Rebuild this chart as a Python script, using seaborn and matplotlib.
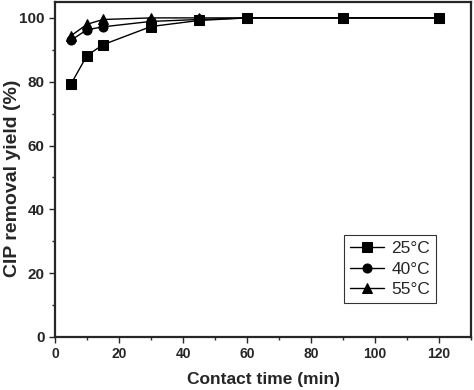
import numpy as np
import pandas as pd
import seaborn as sns
import matplotlib.pyplot as plt
from matplotlib.ticker import MultipleLocator

# Contact time (min) and CIP removal yield (%) at each temperature
time_min = [5, 10, 15, 30, 45, 60, 90, 120]
yield_25 = [79.3, 88.2, 91.6, 97.3, 99.2, 100.0, 100.0, 100.0]
yield_40 = [93.0, 96.3, 97.2, 98.9, 99.5, 100.0, 100.0, 100.0]
yield_55 = [94.4, 98.0, 99.5, 100.0, 100.0, 100.0, 100.0, 100.0]
labels = ['25°C', '40°C', '55°C']
markers = ['s', 'o', '^']

df = pd.concat([
    pd.DataFrame({'time': time_min, 'yield': y, 'T': lab})
    for y, lab in zip([yield_25, yield_40, yield_55], labels)
])

sns.set_style('ticks')
plt.rcParams['font.family'] = ['Liberation Sans', 'DejaVu Sans']

fig = plt.figure(figsize=(4.74, 3.90), dpi=100)
ax = fig.add_axes([0.116, 0.136, 0.878, 0.859])

for lab, m in zip(labels, markers):
    sns.lineplot(data=df[df['T'] == lab], x='time', y='yield', ax=ax,
                 color='black', marker=m, markersize=6.5, linewidth=1,
                 markeredgecolor='black', label=lab)

ax.set_xlim(0, 130)
ax.set_ylim(0, 105)
ax.xaxis.set_major_locator(MultipleLocator(20))
ax.xaxis.set_minor_locator(MultipleLocator(10))
ax.yaxis.set_major_locator(MultipleLocator(20))
ax.yaxis.set_minor_locator(MultipleLocator(10))
ax.tick_params(which='major', direction='out', length=4, width=1)
ax.tick_params(which='minor', direction='out', length=2.5, width=1)
ax.tick_params(axis='x', labelsize=10)
ax.tick_params(axis='y', labelsize=11)
for t in ax.get_xticklabels() + ax.get_yticklabels():
    t.set_fontweight('bold')
for s in ax.spines.values():
    s.set_linewidth(1.6)
    s.set_visible(True)

ax.set_xlabel('Contact time (min)', fontsize=12.5, fontweight='bold')
ax.xaxis.set_label_coords(0.502, -0.105)
ax.set_ylabel('CIP removal yield (%)', fontsize=14, fontweight='bold')
ax.yaxis.set_label_coords(-0.082, 0.475)

leg = ax.legend(loc='lower right', bbox_to_anchor=(0.916, 0.101), fontsize=12.5,
                frameon=True, fancybox=False, edgecolor='black', borderaxespad=0,
                handlelength=2.0, borderpad=0.35, labelspacing=0.3, handletextpad=0.4)
leg.get_frame().set_linewidth(0.8)

fig.savefig('out.png', dpi=100)
